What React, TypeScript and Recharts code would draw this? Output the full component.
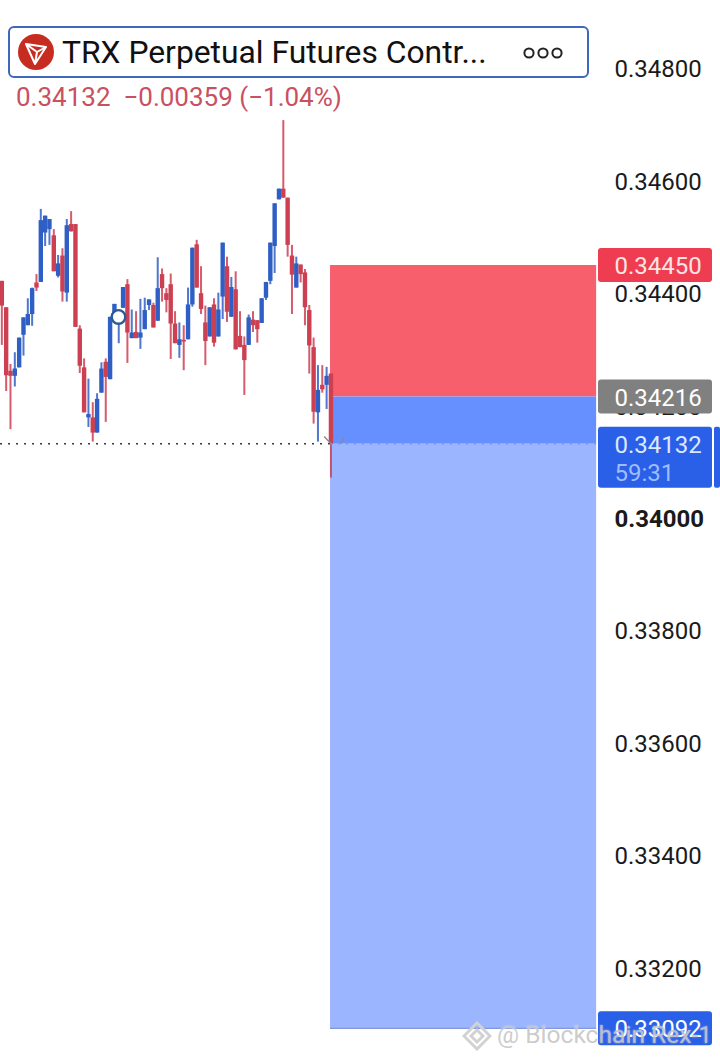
import { Bar, ComposedChart, ReferenceArea, ReferenceDot, ReferenceLine, XAxis, YAxis } from "recharts";

// prices in 1e-5 units
const opens = [34422,34375,34262,34253,34268,34326,34343,34363,34419,34420,34508,34514,34503,34431,34467,34401,34523,34523,34337,34268,34179,34179,34152,34223,34278,34247,34358,34346,34374,34416,34320,34331,34321,34336,34379,34379,34351,34434,34400,34416,34346,34308,34317,34318,34380,34487,34400,34348,34323,34380,34323,34394,34448,34358,34407,34324,34308,34308,34353,34352,34347,34392,34422,34484,34567,34586,34570,34467,34410,34451,34437,34370,34304,34188,34237,34237,34257];
const closes = [34378,34254,34253,34266,34321,34357,34363,34409,34410,34530,34538,34532,34439,34453,34403,34521,34510,34340,34271,34188,34185,34152,34212,34266,34251,34358,34381,34364,34411,34330,34330,34320,34330,34370,34389,34339,34409,34409,34388,34346,34311,34318,34314,34380,34481,34410,34372,34315,34375,34312,34371,34490,34367,34411,34300,34304,34281,34357,34343,34336,34391,34420,34490,34560,34586,34570,34486,34433,34453,34434,34375,34307,34189,34228,34229,34253,34132];
const highs = [34422,34375,34274,34295,34321,34357,34391,34410,34434,34550,34538,34532,34514,34468,34480,34532,34546,34523,34343,34284,34248,34206,34222,34277,34284,34358,34381,34364,34411,34425,34371,34368,34390,34392,34389,34383,34464,34444,34409,34435,34368,34348,34343,34410,34481,34495,34448,34378,34375,34391,34401,34490,34465,34429,34439,34368,34323,34362,34368,34352,34391,34420,34490,34560,34586,34708,34570,34486,34465,34451,34443,34379,34321,34272,34272,34269,34257];
const lows = [34308,34226,34158,34234,34268,34289,34343,34342,34404,34420,34484,34486,34439,34428,34385,34385,34510,34340,34258,34188,34162,34136,34152,34223,34171,34247,34358,34311,34374,34276,34320,34320,34301,34336,34370,34339,34351,34385,34366,34283,34311,34285,34263,34318,34376,34410,34363,34272,34323,34305,34323,34354,34349,34358,34300,34304,34219,34308,34331,34312,34347,34388,34416,34436,34567,34570,34465,34363,34410,34419,34343,34257,34168,34136,34223,34194,34072];

const priceTicks = [0.348, 0.346, 0.344, 0.342, 0.34, 0.338, 0.336, 0.334, 0.332];
const lastPrice = 0.34132;
const stopPrice = 0.3445;
const entryPrice = 0.34216;
const targetPrice = 0.33092;
const tagTicks = [stopPrice, entryPrice, lastPrice, targetPrice];
const countdown = "59:31";

const UP = "#2F5FC4";
const DOWN = "#CC4052";
const FONT = "Roboto, sans-serif";
const PRICE_DOMAIN = [0.330356, 0.349217];
const X_MIN = -0.46;
const BOX_LEFT = 75.75;
const BOX_RIGHT = 137.2;

const candles = opens.map((o, i) => ({
  i,
  open: o / 100000,
  close: closes[i] / 100000,
  high: highs[i] / 100000,
  low: lows[i] / 100000,
  range: [lows[i] / 100000, highs[i] / 100000],
}));

function Candle(props: any) {
  const { x, y, width, height, payload } = props;
  const color = payload.close >= payload.open ? UP : DOWN;
  const perUnit = height / (payload.high - payload.low);
  const top = y + (payload.high - Math.max(payload.open, payload.close)) * perUnit;
  const bodyH = Math.abs(payload.open - payload.close) * perUnit;
  const cx = x + width / 2;
  return (
    <g>
      <rect x={cx - 1} y={y} width={2} height={height} fill={color} fillOpacity={0.85} />
      <rect x={cx - 2.2} y={top} width={4.4} height={Math.max(bodyH, 1.5)} fill={color} />
    </g>
  );
}

// tags come after the plain prices in the tick list, so they paint over them
function PriceTick(props: any) {
  const { y, payload } = props;
  const v = payload.value;
  if (v === lastPrice) {
    return (
      <g>
        <rect x={598} y={y - 17} width={114} height={61} rx={3} fill="#2A5FE8" />
        <rect x={714} y={y - 17} width={6} height={61} rx={2} fill="#2A5FE8" />
        <text x={614.5} y={y + 9} fontFamily={FONT} fontSize={24} fill="#DCE8FF">
          {v.toFixed(5)}
        </text>
        <text x={614.5} y={y + 37} fontFamily={FONT} fontSize={24} fill="#9DBDFF">
          {countdown}
        </text>
      </g>
    );
  }
  if (tagTicks.includes(v)) {
    const fill = v === stopPrice ? "#EE3D50" : v === entryPrice ? "#808080" : "#2A5FE8";
    const color = v === stopPrice ? "#FCE4E6" : "#fff";
    return (
      <g>
        <rect x={598} y={y - 17} width={114} height={34} rx={3} fill={fill} />
        <text x={614.5} y={y + 9} fontFamily={FONT} fontSize={24} fill={color}>
          {v.toFixed(5)}
        </text>
      </g>
    );
  }
  return (
    <text x={614.5} y={y + 9} fontFamily={FONT} fontSize={24} fontWeight={v === 0.34 ? 700 : 400} fill="#1a1a1a">
      {v.toFixed(5)}
    </text>
  );
}

function Header() {
  return (
    <>
      <div
        style={{
          position: "absolute",
          left: 8,
          top: 26,
          width: 577,
          height: 48,
          border: "2px solid #3E68BC",
          borderRadius: 6,
          background: "#fff",
        }}
      />
      <svg width={38} height={38} style={{ position: "absolute", left: 17, top: 33 }}>
        <circle cx={19} cy={19} r={18} fill="#C62D20" />
        <path d="M9 11 L29 14 L18 31 Z M9 11 L20 19 L18 31 M29 14 L20 19" fill="none" stroke="#fff" strokeWidth={2} strokeLinejoin="round" />
      </svg>
      <div
        style={{
          position: "absolute",
          left: 62,
          top: 33,
          fontFamily: FONT,
          fontSize: 31.8,
          lineHeight: "38px",
          color: "#111",
          whiteSpace: "nowrap",
        }}
      >
        TRX Perpetual Futures Contr...
      </div>
      <svg width={44} height={14} style={{ position: "absolute", left: 522, top: 46 }}>
        {[7, 21, 35].map((cx) => (
          <circle key={cx} cx={cx} cy={7} r={4.6} fill="none" stroke="#222" strokeWidth={2} />
        ))}
      </svg>
      <div
        style={{
          position: "absolute",
          left: 16,
          top: 82,
          fontFamily: FONT,
          fontSize: 26,
          lineHeight: "30px",
          color: "#C9505F",
          whiteSpace: "pre",
        }}
      >
        {"0.34132  \u22120.00359 (\u22121.04%)"}
      </div>
    </>
  );
}

function Watermark() {
  return (
    <>
      <svg width={30} height={30} style={{ position: "absolute", left: 462, top: 1021 }}>
        <path d="M15 2 L28 15 L15 28 L2 15 Z M15 9 L21 15 L15 21 L9 15 Z" fill="none" stroke="#d2d2d2" strokeWidth={3} />
      </svg>
      <div
        style={{
          position: "absolute",
          left: 497,
          top: 1020,
          fontFamily: FONT,
          fontSize: 24.6,
          lineHeight: "30px",
          color: "rgba(195,195,195,0.85)",
          textShadow: "0 0 2px rgba(255,255,255,0.6)",
          whiteSpace: "nowrap",
        }}
      >
        @ Blockchain Rex-1
      </div>
    </>
  );
}

export default function App() {
  return (
    <div style={{ position: "absolute", left: 0, top: 0, width: 720, height: 1060, background: "#fff", overflow: "hidden" }}>
      <ComposedChart
        width={720}
        height={1060}
        data={candles}
        margin={{ top: 0, right: 0, bottom: 0, left: 0 }}
      >
        <XAxis dataKey="i" type="number" domain={[X_MIN, 137.4]} hide allowDataOverflow />
        <YAxis
          orientation="right"
          width={123}
          domain={PRICE_DOMAIN}
          ticks={[...priceTicks, ...tagTicks]}
          interval={0}
          axisLine={false}
          tickLine={false}
          tick={<PriceTick />}
          allowDataOverflow
        />
        <ReferenceArea x1={BOX_LEFT} x2={BOX_RIGHT} y1={entryPrice} y2={stopPrice} fill="#F75F6D" fillOpacity={1} stroke="none" />
        <ReferenceArea x1={BOX_LEFT} x2={BOX_RIGHT} y1={lastPrice} y2={entryPrice} fill="#6690FF" fillOpacity={1} stroke="none" />
        <ReferenceArea x1={BOX_LEFT} x2={BOX_RIGHT} y1={targetPrice} y2={lastPrice} fill="#9BB5FF" fillOpacity={1} stroke="none" />
        <ReferenceLine segment={[{ x: X_MIN, y: lastPrice }, { x: BOX_LEFT, y: lastPrice }]} stroke="#3a3a3a" strokeDasharray="2 6" strokeWidth={1.5} />
        <ReferenceLine segment={[{ x: BOX_LEFT, y: lastPrice }, { x: BOX_RIGHT, y: lastPrice }]} stroke="#7C97E8" strokeDasharray="2 6" strokeWidth={1.5} />
        <ReferenceLine segment={[{ x: BOX_LEFT, y: targetPrice }, { x: BOX_RIGHT, y: targetPrice }]} stroke="#8098E0" strokeWidth={1.2} />
        <Bar dataKey="range" barSize={4} shape={<Candle />} isAnimationActive={false} />
        <ReferenceDot x={26.9} y={0.343577} r={6.8} fill="#fff" stroke="#2C5A94" strokeWidth={2.4} />
        <ReferenceLine segment={[{ x: 74.4, y: 0.34145 }, { x: 76, y: 0.34132 }]} stroke="#8a8a8a" strokeWidth={1.5} />
        <ReferenceLine segment={[{ x: 78.2, y: 0.34132 }, { x: 78.9, y: 0.34142 }]} stroke="#8a8a8a" strokeWidth={1.5} />
      </ComposedChart>
      <Header />
      <Watermark />
    </div>
  );
}
